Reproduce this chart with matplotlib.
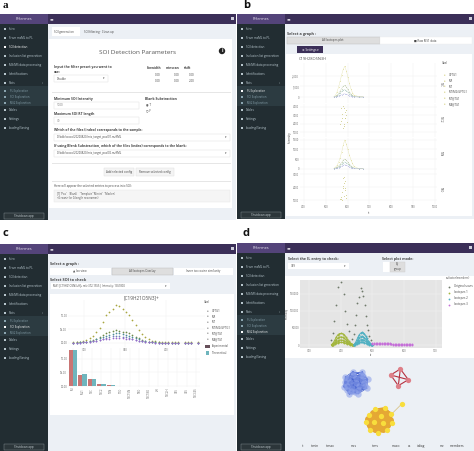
import itertools
import matplotlib
matplotlib.use("Agg")
import matplotlib.pyplot as plt
from matplotlib.patches import Rectangle, Circle

W, H = 474, 451
plt.rcParams['font.family'] = ['Open Sans', 'DejaVu Sans']

# ---------- text content ----------
menu_items = ["Intro", "From mzML to PL", "SOI detection", "Inclusion list generation",
              "MS/MS data processing", "Identifications", "Plots", "PL Exploration",
              "SOI Exploration", "MS2 Exploration", "Tables", "Settings", "Loading/Saving"]
legend_iso = ["GPTG1", "MR", "M1", "M1/M2/GPTG1", "M1@TG1", "M2@TG1"]

# ---------- panel c: isotopologue traces ----------
c_rt = [287, 291, 295, 299, 303, 307, 311, 315, 319, 323, 327, 331, 335, 339, 343, 347, 351, 355,
        359, 363, 367, 371, 375, 379, 383, 387, 391, 395, 399, 403, 407, 411, 415, 423, 427, 431, 439]
c_m0 = [0.1, 0.1, 0.3, 0.5, 0.9, 1.6, 2.6, 3.9, 5.3, 7.5, 10.2, 11.5, 12.6, 13.8, 13.4, 12.6, 11.5,
        10.2, 8.4, 6.5, 4.8, 3.2, 2.2, 1.2, 0.8, 0.6, 0.4, 0.3, 0.2, 0.15, 0.1, 0.1, 0.1, 0.1, 0.1, 0.1, 0.1]
c_m1 = [0.0, 0.1, 0.1, 0.2, 0.4, 0.6, 1.0, 1.5, 2.1, 2.8, 3.4, 3.9, 4.3, 4.6, 4.4, 4.1, 3.8,
        3.4, 2.8, 2.2, 1.6, 1.1, 0.7, 0.4, 0.2, 0.1, 0.1, 0.05, 0.0, 0.0, 0.0, 0.0, 0.0, 0.0, 0.0, 0.0, 0.0]
c_m2 = [0.0, 0.0, 0.1, 0.2, 0.3, 0.5, 0.8, 1.2, 1.6, 2.1, 2.6, 3.0, 3.3, 3.5, 3.4, 3.2, 2.9,
        2.6, 2.1, 1.7, 1.2, 0.8, 0.5, 0.3, 0.1, 0.1, 0.0, 0.0, 0.0, 0.0, 0.0, 0.0, 0.0, 0.0, 0.0, 0.0, 0.0]
c_m3 = [0.0, 0.0, 0.0, 0.1, 0.2, 0.3, 0.5, 0.8, 1.1, 1.4, 1.8, 2.0, 2.3, 2.4, 2.3, 2.2, 2.0,
        1.8, 1.5, 1.1, 0.8, 0.5, 0.3, 0.2, 0.1, 0.0, 0.0, 0.0, 0.0, 0.0, 0.0, 0.0, 0.0, 0.0, 0.0, 0.0, 0.0]
c_m4 = [0.0, 0.0, 0.0, 0.1, 0.2, 0.4, 0.6, 0.8, 1.0, 1.2, 1.4, 1.5, 1.6, 1.6, 1.6, 1.6, 1.5,
        1.4, 1.3, 1.1, 0.8, 0.5, 0.3, 0.2, 0.1, 0.0, 0.0, 0.0, 0.0, 0.0, 0.0, 0.0, 0.0, 0.0, 0.0, 0.0, 0.0]
c_colors = ["#a9a640", "#6f8a4a", "#4f8f98", "#6f7fb8", "#9a68cc"]

bar_labels = ["M", "M+1", "13C", "13C2", "15N", "17O", "13C15N", "18O", "13C18O", "2H", "13C2H", "33S", "34S", "13C34S"]
bar_exp = [13.4, 4.2, 2.6, 0.7, 0.2, 0.05, 0.05, 0.04, 0.03, 0.02, 0.02, 0.02, 0.02, 0.02]
bar_theo = [13.4, 4.3, 2.6, 0.7, 0.25, 0.08, 0.06, 0.05, 0.03, 0.02, 0.02, 0.02, 0.02, 0.02]

# ---------- panel d: scatter ----------
d_orig_x = [396, 401, 391, 409, 385, 414, 379, 420, 374, 425, 367, 463, 468, 456, 471, 452, 475, 448, 479, 444, 483, 440, 487, 435, 490, 495]
d_orig_y = [196000, 185000, 170000, 150000, 118000, 101000, 71000, 63000, 35000, 40000, 15000,
            168000, 160000, 141000, 143000, 122000, 118000, 88000, 85000, 59000, 60000, 32000, 43000, 18000, 27000, 15000]
d_g_x = [370, 375, 380, 385, 390, 395, 400, 405, 410, 415, 420, 425, 430, 435, 439]
d_g1 = [1000, 6000, 14000, 23000, 30000, 33500, 34000, 33500, 30000, 24000, 17000, 11000, 6000, 3000, 1000]
d_g2 = [500, 3500, 9000, 15000, 20000, 23000, 24000, 23000, 20000, 16000, 11000, 7000, 4000, 1500, 500]
d_g3 = [300, 1500, 5000, 9000, 12000, 14000, 15000, 14000, 12000, 9500, 7000, 4500, 2500, 1000, 300]
d_g4 = [200, 800, 2500, 4500, 6500, 7500, 8000, 7500, 6500, 5000, 3500, 2200, 1200, 500, 200]
d_t_x = [442, 446, 450, 454, 458, 462, 466, 470, 474, 478, 482, 486, 490, 494, 499]
d_t1 = [1500, 7000, 15000, 23000, 30000, 34500, 37000, 36000, 33000, 27000, 20000, 13000, 8000, 3500, 1000]
d_t2 = [800, 4000, 9000, 15000, 20000, 24000, 26000, 25000, 22000, 18000, 13000, 9000, 5000, 2000, 500]
d_t3 = [400, 2000, 5000, 9000, 12000, 15000, 16000, 15500, 13500, 11000, 8000, 5500, 3000, 1200, 300]
d_t4 = [200, 1000, 2500, 4500, 6500, 8000, 8500, 8000, 7000, 5500, 4000, 2500, 1500, 600, 200]
d_p_x = [500, 505, 510, 515, 520, 525, 530, 535, 540, 545, 550, 555, 560, 565, 570, 575, 580, 585, 590, 595, 600, 605, 610, 615, 620, 625]
d_p1 = [7000, 6500, 6000, 6000, 5500, 5500, 5000, 5000, 5000, 4500, 4500, 4500, 4000, 4000, 4000, 3500, 3500, 3500, 3000, 3000, 3000, 2500, 2500, 2500, 2000, 2000]
d_p2 = [3000, 3000, 2500, 2500, 2500, 2200, 2200, 2000, 2000, 2000, 1800, 1800, 1800, 1500, 1500, 1500, 1300, 1300, 1200, 1200, 1000, 1000, 900, 800, 800, 700]
d_labels = ["Original scans", "Isotopes 1", "Isotopes 2", "Isotopes 3"]
d_colors = ["#6f7a6a", "#a3b63e", "#4fb0c2", "#c56fd8"]

# ---------- panel d: networks (layout units) ----------
blue_x = [99, 127, 143, 140, 115, 88, 71, 76, 108, 90, 125, 118, 95, 108, 85, 130, 100, 113, 82, 133, 75, 105, 122, 92, 136, 80]
blue_y = [50, 50, 73, 100, 116, 117, 95, 66, 70, 80, 75, 92, 98, 85, 68, 62, 60, 104, 105, 85, 82, 112, 60, 108, 92, 92]
red_x = [241, 265, 235, 212]
red_y = [42, 74, 92, 60]
gold_x = [165, 196, 214, 215, 200, 175, 150, 137, 148, 163, 190, 183, 245]
gold_y = [163, 158, 178, 205, 226, 233, 225, 202, 180, 201, 205, 182, 147]
gold_inner_x = [177, 158, 195, 177, 205, 170, 188, 150, 145, 210, 180, 165, 200, 160, 185, 170, 195, 155, 178, 205]
gold_inner_y = [197, 175, 175, 215, 190, 185, 222, 210, 192, 195, 170, 222, 210, 190, 190, 205, 195, 200, 182, 178]

# ---------- panel b: facets ----------
b_rt = [538, 545, 552, 559, 566, 573, 580, 587, 594, 601, 608, 615, 622, 629, 650, 672]
b1_a = [30, 180, 480, 950, 1500, 2100, 2600, 2900, 2500, 1900, 1300, 800, 420, 180, 50, 20]
b1_b = [10, 70, 180, 340, 560, 800, 1000, 1100, 950, 720, 500, 300, 150, 60, 0, 0]
b1_c = [5, 40, 110, 220, 360, 520, 640, 700, 600, 460, 320, 190, 90, 30, 0, 0]
b1_d = [0, 20, 50, 100, 160, 230, 280, 300, 260, 200, 140, 80, 40, 10, 0, 0]
b2_x = [566, 570, 575, 578, 582, 584, 587, 590, 593, 596, 570, 585, 590, 594, 578, 575]
b2_y = [1950, 2300, 2650, 1500, 1700, 3850, 2650, 3400, 3600, 2200, 3900, 1900, 2700, 3000, 4100, 3200]
b3_a = [20, 70, 160, 330, 570, 860, 1220, 1500, 1300, 1000, 720, 470, 270, 110, 0, 0]
b3_b = [5, 30, 70, 130, 220, 320, 430, 500, 430, 340, 240, 150, 80, 30, 0, 0]
b3_c = [0, 20, 50, 90, 150, 220, 300, 350, 300, 240, 170, 100, 50, 20, 0, 0]
b3_d = [0, 10, 20, 40, 70, 110, 170, 200, 170, 130, 90, 50, 20, 10, 0, 0]
b4_x = [566, 570, 572, 575, 578, 580, 582, 585, 588, 590, 592, 594, 578, 583, 587, 575]
b4_y = [1050, 1250, 1100, 1600, 1900, 2100, 2300, 2800, 2500, 1900, 1400, 1150, 2700, 1300, 1800, 1000]

fig = plt.figure(figsize=(W / 100, H / 100), dpi=100, facecolor="white")
ov = fig.add_axes([0, 0, 1, 1], zorder=0)
ov.set_xlim(0, W)
ov.set_ylim(H, 0)
ov.axis("off")


def R(x0, y0, x1, y1, c, ec="none", lw=0.3, z=1):
    ov.add_patch(Rectangle((x0, y0), x1 - x0, y1 - y0, fc=c, ec=ec, lw=lw, zorder=z))


def T(x, y, s, size=2.3, color="#444444", ha="left", va="center", weight="normal", rot=0, z=3, **kw):
    ov.text(x, y, s, fontsize=size, color=color, ha=ha, va=va, fontweight=weight, rotation=rot, zorder=z, **kw)


def shell(ox, oy, bottom, right, active, sub_active):
    """Dashboard frame drawn in figure pixels."""
    head = oy + 14
    R(ox + 48, head, right, head + 10, "#3b2f58")
    R(ox, head, ox + 48, head + 10, "#54447a")
    T(ox + 24, head + 5, "RHermes", size=2.8, color="#e8e4f0", ha="center")
    T(ox + 51, head + 5, "≡", size=3.2, color="#ffffff", ha="center")
    R(right - 5, head + 3, right - 2, head + 6, "#cfcfdc")
    R(ox + 48, head + 10, right, bottom, "#ecf0f5")
    R(ox, head + 10, ox + 48, bottom, "#222d32")
    R(ox, oy + 86, ox + 48, oy + 106, "#2c3b41")
    ys = [29, 38, 47, 56, 65, 74, 83, 91, 97, 103, 110, 119, 128]
    for i, (name, y) in enumerate(zip(menu_items, ys)):
        is_sub = 7 <= i <= 9
        col = "#ffffff" if i == active or i == sub_active else ("#8aa4af" if is_sub else "#b8c7ce")
        T(ox + (9 if not is_sub else 10), oy + y, name, size=2.2 if not is_sub else 1.9, color=col)
        R(ox + 4.5, oy + y - 1, ox + 6.5, oy + y + 1, col, z=2)
    T(ox + 42, oy + 83, "‹", size=2.6, color="#b8c7ce")
    R(ox + 4, bottom - 7, ox + 44, bottom - 1, "#2c363a", ec="#8a9498", lw=0.3)
    T(ox + 24, bottom - 4, "Shutdown app", size=2.1, color="#c9d2d6", ha="center")


# ------------- panel letters -------------
T(3, 5, "a", size=8, color="#111111", weight="bold", family="Liberation Serif")
T(243, 5, "b", size=8, color="#111111", weight="bold")
T(3, 234, "c", size=8, color="#111111", weight="bold")
T(243, 234, "d", size=8, color="#111111", weight="bold")

# ------------- panel a -------------
shell(0, 0, 220, 236, 2, None)
R(52, 27, 80, 36, "#ffffff")
T(54, 32, "SOI generation", size=2.1)
T(84, 32, "SOI filtering · Clean up", size=2.1)
R(49, 39, 232, 208, "#ffffff")
T(138, 52, "SOI Detection Parameters", size=4.6, color="#555555", ha="center")
ov.add_patch(Circle((222, 51), 3.2, fc="#222222", ec="none", zorder=2))
T(222, 51, "i", size=3.6, color="#ffffff", ha="center", weight="bold")
T(54, 67, "Input the filter preset you want to", size=2.4, weight="bold")
T(54, 72, "use:", size=2.4, weight="bold")
R(54, 75, 108, 82, "#ffffff", ec="#dddddd")
T(57, 78.5, "Double", size=2.2)
T(104, 78.5, "▾", size=2.2, ha="center")
for x, s, a, b in [(154, "binwidth", "0.00", "0.00"), (173, "minscan", "0.00", "0.00"), (188, "shift", "0.00", "2.00")]:
    T(x, 68, s, size=2.3, ha="center", weight="bold")
    T(x + 4, 75, a, size=2.2, ha="center")
    T(x + 4, 81.5, b, size=2.2, ha="center")
for y in [92, 163, 181]:
    R(52, y, 231, y + 0.5, "#e6e6e6")
T(54, 99, "Minimum SOI Intensity", size=2.4, weight="bold")
R(54, 102, 139, 109, "#ffffff", ec="#dddddd")
T(57, 105.5, "1000", size=2.2, color="#777777")
T(54, 114, "Maximum SOI RT length", size=2.4, weight="bold")
R(54, 117, 139, 124, "#ffffff", ec="#dddddd")
T(57, 120.5, "30", size=2.2, color="#777777")
T(145, 99, "Blank Substraction", size=2.4, weight="bold")
T(146, 104.5, "◉ T", size=2.2)
T(146, 110, "○ F", size=2.2)
T(54, 130, "Which of the files (index) corresponds to the sample:", size=2.4, weight="bold")
R(54, 134, 230, 141, "#ffffff", ec="#dddddd")
T(57, 137, "D:/bdb/xxxxx/20200820/mix_target_pos/01.mzXML", size=2.0)
T(226, 137, "▾", size=2.2, ha="center")
T(54, 146.5, "If using Blank Substraction, which of the files (index) corresponds to the blank:", size=2.4, weight="bold")
R(54, 150, 230, 157, "#ffffff", ec="#dddddd")
T(57, 153, "D:/bdb/xxxxx/20200820/mix_target_pos/02.mzXML", size=2.0)
T(226, 153, "▾", size=2.2, ha="center")
R(104, 168, 134, 176, "#f4f4f4", ec="#dddddd")
T(119, 172, "Add selected config", size=2.1, ha="center")
R(136, 168, 174, 176, "#f4f4f4", ec="#dddddd")
T(155, 172, "Remove selected config", size=2.1, ha="center")
T(54, 186, "Here will appear the selected entries to process into SOI:", size=2.2)
R(54, 190, 230, 202, "#f5f5f5", ec="#e6e6e6")
T(57, 194, "[1] 'Pos'    'Blank'    'Template' 'Minint'   'Maxlen'", size=1.9)
T(57, 198, "<0 rows> (or 0-length row.names)", size=1.9)

# ------------- panel b -------------
shell(237, 0, 219, 474, 7, 7)
T(287, 34, "Select a graph :", size=2.8, weight="bold")
R(287, 37, 380, 44, "#dedede", ec="#bbbbbb")
T(333, 40.5, "All Isotopes plot", size=2.1, ha="center")
R(380, 37, 472, 44, "#ffffff", ec="#eeeeee")
T(425, 40.5, "■ Raw MS1 data", size=2.1, ha="center")
R(297, 46, 323, 53, "#3b2f58")
T(310, 49.5, "⚙ Settings ▾", size=2.2, color="#ffffff", ha="center")
R(286, 54, 472, 216, "#ffffff")
T(299, 59, "C19H28O5N3H", size=2.9, color="#555555")
T(442, 63, "label", size=2.0)
for i, s in enumerate(legend_iso):
    y = 75 + i * 5.8
    T(449, y, s, size=2.0)
    T(445, y, "●", size=1.2, color="#d9d68f", ha="center")
T(290, 137, "Intensity", size=2.2, rot=90, ha="center")
T(369, 213, "rt", size=2.2, ha="center")
T(440.5, 84, "13C", size=2.0, rot=270, ha="center")
T(440.5, 119, "13C2", size=2.0, rot=270, ha="center")
T(440.5, 154, "15N", size=2.0, rot=270, ha="center")
T(440.5, 190, "18O", size=2.0, rot=270, ha="center")

# ------------- panel c -------------
shell(0, 230, 451, 236, 8, 8)
T(50, 264, "Select a graph :", size=2.8, weight="bold")
R(50, 268, 111, 275, "#ffffff")
T(80, 271, "▲ Iso view", size=2.1, ha="center")
R(112, 268, 173, 275, "#dedede", ec="#bbbbbb")
T(142, 271, "All Isotopes Overlay", size=2.1, ha="center")
R(174, 268, 233, 275, "#ffffff")
T(203, 271, "Inner iso cosine similarity", size=2.1, ha="center")
T(50, 280, "Select SOI to check", size=2.8, weight="bold")
R(51, 283, 170, 289, "#ffffff")
T(53, 286, "M#1 [C19H21O5N3+H]+ m/z 372.1555 | Intensity: 1357800", size=1.9)
T(166, 286, "▾", size=2.2, ha="center")
R(50, 294, 234, 415, "#ffffff")
T(142, 298, "[C19H21O5N3]+", size=3.4, color="#555555", ha="center")
T(204, 302, "label", size=2.0)
for i, s in enumerate(legend_iso):
    y = 311 + i * 5.6
    T(212, y, s, size=2.0)
    T(207.5, y, "●", size=1.4, color="#999999", ha="center")
R(205, 345, 210, 348, "#66505a")
T(212, 346.5, "Experimental", size=2.0)
R(206, 351, 209.5, 354.5, "#6fb5bd")
T(212, 352.5, "Theoretical", size=2.0)

# ------------- panel d -------------
shell(237, 229, 451, 474, 9, 9)
T(288, 259, "Select the IL entry to check:", size=2.6, weight="bold")
R(288, 263, 349, 269, "#ffffff")
T(291, 266, "329", size=2.1)
T(345, 266, "▾", size=2.2, ha="center")
T(382, 259, "Select plot mode:", size=2.6, weight="bold")
R(383, 262, 390, 272, "#ffffff")
R(390, 262, 405, 272, "#dedede", ec="#cccccc")
T(397.5, 264.5, "By", size=2.0, ha="center")
T(397.5, 269, "group", size=2.0, ha="center")
R(285, 276, 474, 358, "#ffffff")
T(446, 278, "as.factor(members)", size=1.9)
for i, (s, c) in enumerate(zip(d_labels, d_colors)):
    y = 286.5 + i * 6
    ov.plot([449.5], [y], "o", ms=1.3, color=c, mew=0, zorder=3)
    T(454, y, s, size=2.1)
T(287, 313, "Intensity", size=2.0, rot=90, ha="center")
T(371, 355, "rt", size=2.0, ha="center")
for x, s in zip([303, 315, 330, 354, 375, 396, 410, 421, 442, 457],
                ["rt", "rtmin", "rtmax", "mzs", "rtms", "maxo", "as", "isdiag", "mz", "members"]):
    T(x, 446, s, size=2.3, color="#333333", ha="center")


def px_axes(x0, y0, x1, y1):
    ax = fig.add_axes([x0 / W, 1 - y1 / H, (x1 - x0) / W, (y1 - y0) / H], zorder=2)
    ax.patch.set_alpha(0)
    for s in ax.spines.values():
        s.set_visible(False)
    ax.tick_params(length=0, labelsize=2.0, pad=0.6, labelcolor="#666666")
    ax.grid(True, color="#eeeeee", lw=0.3)
    ax.set_axisbelow(True)
    return ax


# panel b facets
b_x = [400, 500, 600, 700, 800, 900, 1000]
facets = [(63, 103, (-566, 3208), [0, 1000, 2000], ["0", "1,000", "2,000"]),
          (104, 137, (400, 4360), [1000, 2000, 3000, 4000], ["1000", "2000", "3000", "4000"]),
          (138, 172, (-184, 1605), [0, 500, 1000, 1500], ["0", "500", "1000", "1500"]),
          (172, 204, (690, 3180), [1000, 2000, 3000], ["1000", "2000", "3000"])]
for i, (t, b, yl, yt, ytl) in enumerate(facets):
    ax = px_axes(300, t, 437, b)
    ax.set_xlim(383, 1008)
    ax.set_ylim(*yl)
    ax.set_yticks(yt, ytl)
    ax.set_xticks(b_x, [str(v) for v in b_x] if i == 3 else [""] * len(b_x))
    if i == 0:
        curves = [(b1_a, "#dcd98f"), (b1_b, "#b5c49f"), (b1_c, "#a5c5bc"), (b1_d, "#b4b6e2")]
    elif i == 2:
        curves = [(b3_a, "#dcd98f"), (b3_b, "#b5c49f"), (b3_c, "#a5c5bc"), (b3_d, "#b4b6e2")]
    else:
        curves = []
    for vals, col in curves:
        ax.plot(b_rt, vals, ".", ms=1.0, mew=0, color=col)
        ax.plot(b_rt, vals, "-", lw=0.25, color=col, alpha=0.8)
    if i == 1:
        ax.plot(b2_x, b2_y, ".", ms=1.2, mew=0, color="#cfcc88")
    if i == 3:
        ax.plot(b4_x, b4_y, ".", ms=1.2, mew=0, color="#cfcc88")

# panel c traces
axc = px_axes(68, 300, 205, 347)
axc.set_xlim(280.5, 447.6)
axc.set_ylim(-1.6, 15.8)
axc.set_xticks([300, 350, 400], ["300", "350", "400"])
axc.set_yticks([0, 5, 10], ["00.00", "05.00", "10.00"])
for vals, col in zip([c_m0, c_m1, c_m2, c_m3, c_m4], c_colors):
    axc.plot(c_rt, vals, "o", ms=1.25, mew=0, color=col)

# panel c bars
axb = px_axes(68, 348, 200, 387)
axb.set_xlim(-0.53, 13.4)
axb.set_ylim(-0.37, 14.07)
pos = list(range(len(bar_labels)))
axb.bar([p - 0.23 for p in pos], bar_exp, width=0.46, color="#c97574")
axb.bar([p + 0.23 for p in pos], bar_theo, width=0.46, color="#6fb5bd")
axb.set_xticks(pos, bar_labels, rotation=90)
axb.set_yticks([0, 5, 10], ["00.00", "05.00", "10.00"])

# panel d scatter
axd = px_axes(300, 280, 442, 347.7)
axd.patch.set_alpha(1)
axd.patch.set_facecolor("#e5e5e5")
axd.grid(True, color="#f4f4f4", lw=0.35)
axd.set_xlim(270, 720.6)
axd.set_ylim(-7900, 191000)
axd.set_xticks([300, 400, 500, 600, 700], ["300", "400", "500", "600", "700"])
axd.set_yticks([0, 50000, 100000, 150000], ["0", "50000", "100000", "150000"])
for vals in (d_g1, d_g2, d_g3, d_g4):
    axd.plot(d_g_x, vals, "-o", ms=1.4, lw=0.7, mew=0, color=d_colors[1])
for vals in (d_t1, d_t2, d_t3, d_t4):
    axd.plot(d_t_x, vals, "-o", ms=1.4, lw=0.7, mew=0, color=d_colors[2])
for vals in (d_p1, d_p2):
    axd.plot(d_p_x, vals, "o", ms=1.4, mew=0, color=d_colors[3])
axd.plot(d_orig_x, d_orig_y, "o", ms=1.3, mew=0, color=d_colors[0])

# panel d networks
axn = fig.add_axes([320 / W, 1 - 445 / H, 110 / W, 90 / H], zorder=2)
axn.set_xlim(0, 330)
axn.set_ylim(270, 0)
axn.axis("off")
for (x1, y1), (x2, y2) in itertools.combinations(list(zip(blue_x, blue_y)), 2):
    if (x1 - x2) ** 2 + (y1 - y2) ** 2 < 1800:
        axn.plot([x1, x2], [y1, y2], "-", lw=0.5, color="#3a58cc", zorder=1)
axn.plot(blue_x, blue_y, "o", ms=4.6, mew=0, color="#8fa3ea", alpha=0.6, zorder=2)
for (x1, y1), (x2, y2) in itertools.combinations(list(zip(red_x, red_y)), 2):
    axn.plot([x1, x2], [y1, y2], "-", lw=0.8, color="#b5303f", zorder=1)
axn.plot(red_x, red_y, "o", ms=3.8, mew=0, color="#de7f88", zorder=2)
all_gold = list(zip(gold_x[:-1] + gold_inner_x, gold_y[:-1] + gold_inner_y))
for (x1, y1), (x2, y2) in itertools.combinations(all_gold, 2):
    axn.plot([x1, x2], [y1, y2], "-", lw=1.0, color="#e3a32c", zorder=1)
axn.plot([gold_x[2], gold_x[-1]], [gold_y[2], gold_y[-1]], "-", lw=0.6, color="#d9c58a", zorder=1)
axn.plot(gold_inner_x, gold_inner_y, "o", ms=5.0, mew=0, color="#e5a834", zorder=2)
axn.plot(gold_x, gold_y, "o", ms=3.8, mew=0, color="#f8de3c", zorder=3)

fig.savefig("out.png", dpi=100)
